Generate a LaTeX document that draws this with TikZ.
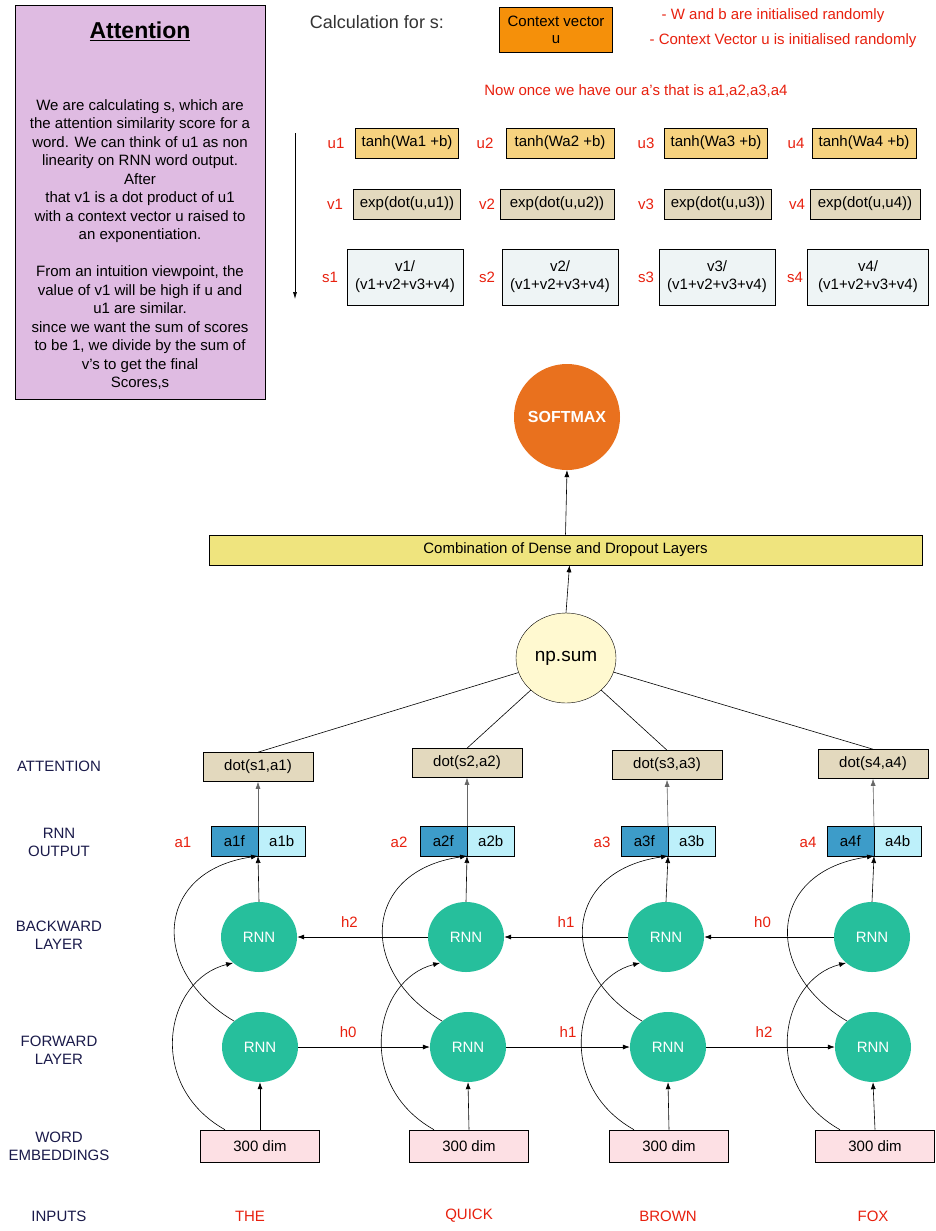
\documentclass[tikz,border=0pt]{standalone}
\usepackage{fontspec}
\setmainfont{Liberation Sans}
\usetikzlibrary{arrows.meta,calc,shapes.geometric}
\definecolor{purp}{HTML}{DFBBE2}
\definecolor{ctx}{HTML}{F5900A}
\definecolor{tanhc}{HTML}{F6D27F}
\definecolor{expc}{HTML}{E3D9BE}
\definecolor{sc}{HTML}{EEF4F5}
\definecolor{soft}{HTML}{E9711E}
\definecolor{comb}{HTML}{EFE47E}
\definecolor{nps}{HTML}{FFF9D0}
\definecolor{af}{HTML}{3D9CC9}
\definecolor{ab}{HTML}{BDF0FA}
\definecolor{rnn}{HTML}{26BF9C}
\definecolor{emb}{HTML}{FDE0E4}
\definecolor{red1}{HTML}{E8200E}
\definecolor{navy}{HTML}{1A1A4A}
\begin{document}
\begin{tikzpicture}[x=1pt,y=-1pt,
  every node/.style={font=\fontsize{15}{18}\selectfont},
  box/.style={draw,line width=0.8pt,minimum height=30pt,inner sep=2pt,align=center},
  rlab/.style={text=red1},
  side/.style={text=navy,align=center,font=\fontsize{15}{18}\selectfont},
  rnnn/.style={ellipse,fill=rnn,minimum width=76pt,minimum height=70pt,text=white,font=\fontsize{15}{18}\selectfont},
  arr/.style={-{Latex[length=7pt,width=5pt]},line width=0.6pt},
  ln/.style={line width=0.6pt}]
\useasboundingbox (0,0) rectangle (936,1231);
\fill[white] (0,0) rectangle (936,1231);
% left explanation
\node[draw,fill=purp,minimum width=250pt,minimum height=394pt,anchor=north west] (expl) at (15,5) {};
\node[font=\fontsize{23}{26}\selectfont\bfseries] (att) at (140,31) {\underline{Attention}};
\node[align=center,anchor=north,font=\fontsize{15}{18.5}\selectfont] (expltxt) at (140,96) {We are calculating s, which are\\the attention similarity score for a\\word. We can think of u1 as non\\linearity on RNN word output.\\After\\that v1 is a dot product of u1\\with a context vector u raised to\\an exponentiation.\\[18.5pt]From an intuition viewpoint, the\\value of v1 will be high if u and\\u1 are similar.\\since we want the sum of scores\\to be 1, we divide by the sum of\\v’s to get the final\\Scores,s};
% calculation
\node[font=\fontsize{18}{21}\selectfont,text=black!80] (calc) at (377,22) {Calculation for s:};
\node[box,fill=ctx,minimum width=113pt,minimum height=45pt,font=\fontsize{15}{17}\selectfont] (ctxv) at (556,30) {Context vector\\u};
\node[rlab] (n1) at (773,16) {- W and b are initialised randomly};
\node[rlab] (n2) at (783,41) {- Context Vector u is initialised randomly};
\node[rlab] (n3) at (636,91) {Now once we have our a’s that is a1,a2,a3,a4};
\coordinate (vt) at (295,133); \coordinate (vb) at (295,299);
\draw[-{Latex[length=7pt,width=4pt]},line width=0.6pt] (vt) -- (vb);
% u row
\foreach \i/\x/\w/\lx in {1/407/103/336,2/560/108/485,3/716/103/646,4/864/104/796}{
  \node[box,fill=tanhc,minimum width=\w pt,inner sep=1pt] (u\i) at (\x,143) {tanh(Wa\i\ +b)};
  \node[rlab] (ul\i) at (\lx,143) {u\i};
}
\foreach \i/\x/\w/\lx in {1/407/107/335,2/557/114/487,3/718/107/646,4/865/110/797}{
  \node[box,fill=expc,minimum width=\w pt,inner sep=1pt] (v\i) at (\x,204) {exp(dot(u,u\i))};
  \node[rlab] (vl\i) at (\lx,204) {v\i};
}
\foreach \i/\x/\w/\lx in {1/405/116/330,2/560/116/487,3/717/116/646,4/868/121/795}{
  \node[box,fill=sc,minimum width=\w pt,minimum height=56pt,line width=0.6pt,inner sep=1pt] (s\i) at (\x,277) {v\i/\\(v1+v2+v3+v4)};
  \node[rlab] (sl\i) at (\lx,277) {s\i};
}
% softmax etc
\node[circle,fill=soft,minimum size=106pt,text=white,font=\fontsize{16}{18}\selectfont\bfseries] (sm) at (567,417) {SOFTMAX};
\node[box,fill=comb,minimum width=713pt,line width=0.6pt] (cb) at (565.5,550) {Combination of Dense and Dropout Layers};
\node[ellipse,draw,fill=nps,minimum width=100pt,minimum height=90pt,font=\fontsize{19}{22}\selectfont] (np) at (566,658) {np.sum};
\draw[arr] (cb.north) -- (sm.south);
\draw[arr] (np.north) -- ($(cb.south)+(4,0)$);
% side labels
\node[side] (l1) at (59,766) {ATTENTION};
\node[side] (l2) at (59,842) {RNN\\OUTPUT};
\node[side] (l3) at (59,935) {BACKWARD\\LAYER};
\node[side] (l4) at (59,1050) {FORWARD\\LAYER};
\node[side] (l5) at (59,1146) {WORD\\EMBEDDINGS};
\node[side] (l6) at (59,1216) {INPUTS};
% columns
\foreach \i/\dx/\dy/\ox/\bx/\fx/\ex/\word/\wx/\alx in {1/258/767/258/259/260/260/THE/250/183,2/467/763/467/466/468/469/QUICK/469/399,3/667/765/668/666/668/669/BROWN/668/602,4/873/764/874/872/873/875/FOX/873/808}{
  \node[box,fill=expc,minimum width=110pt,minimum height=29pt,line width=0.6pt] (d\i) at (\dx,\dy) {dot(s\i,a\i)};
  \node[draw,fill=af,minimum width=47pt,minimum height=30pt,anchor=east,inner sep=0pt] (af\i) at (\ox,841) {a\i f};
  \node[draw,fill=ab,minimum width=47pt,minimum height=30pt,anchor=west,inner sep=0pt] (ab\i) at (\ox,841) {a\i b};
  \coordinate (j\i) at (\ox,856);
  \node[rlab] (al\i) at (\alx,842) {a\i};
  \node[rnnn] (b\i) at (\bx,937) {RNN};
  \node[rnnn] (f\i) at (\fx,1047) {RNN};
  \node[draw,fill=emb,minimum width=119pt,minimum height=32pt,line width=0.6pt] (e\i) at (\ex,1146) {300 dim};
  \node[rlab] (w\i) at (\wx,1216) {\word};
  \draw[ln] (d\i.north) -- (np);
  \draw[arr,draw=black!60] (\ox,826) -- (d\i.south);
  \draw[arr] (b\i.north) -- (j\i);
  \draw[arr] (e\i.north) -- (f\i.south);
  \coordinate (es\i) at ($(e\i.north)+(-35,0)$);
  \draw[arr] (es\i) .. controls ($(es\i)+(-80,-45)$) and ($(es\i)+(-60,-150)$) .. (b\i.225);
  \draw[arr] (f\i.135) .. controls ($(f\i.135)+(-85,-50)$) and ($(f\i.135)+(-80,-150)$) .. (j\i);
}
\draw[arr] (b2) -- (b1) node[pos=0.6,above=6pt,rlab] {h2};
\draw[arr] (b3) -- (b2) node[midway,above=6pt,rlab] {h1};
\draw[arr] (b4) -- (b3) node[pos=0.55,above=6pt,rlab] {h0};
\draw[arr] (f1) -- (f2) node[pos=0.38,above=6pt,rlab] {h0};
\draw[arr] (f2) -- (f3) node[midway,above=6pt,rlab] {h1};
\draw[arr] (f3) -- (f4) node[pos=0.45,above=6pt,rlab] {h2};
\end{tikzpicture}
\end{document}
